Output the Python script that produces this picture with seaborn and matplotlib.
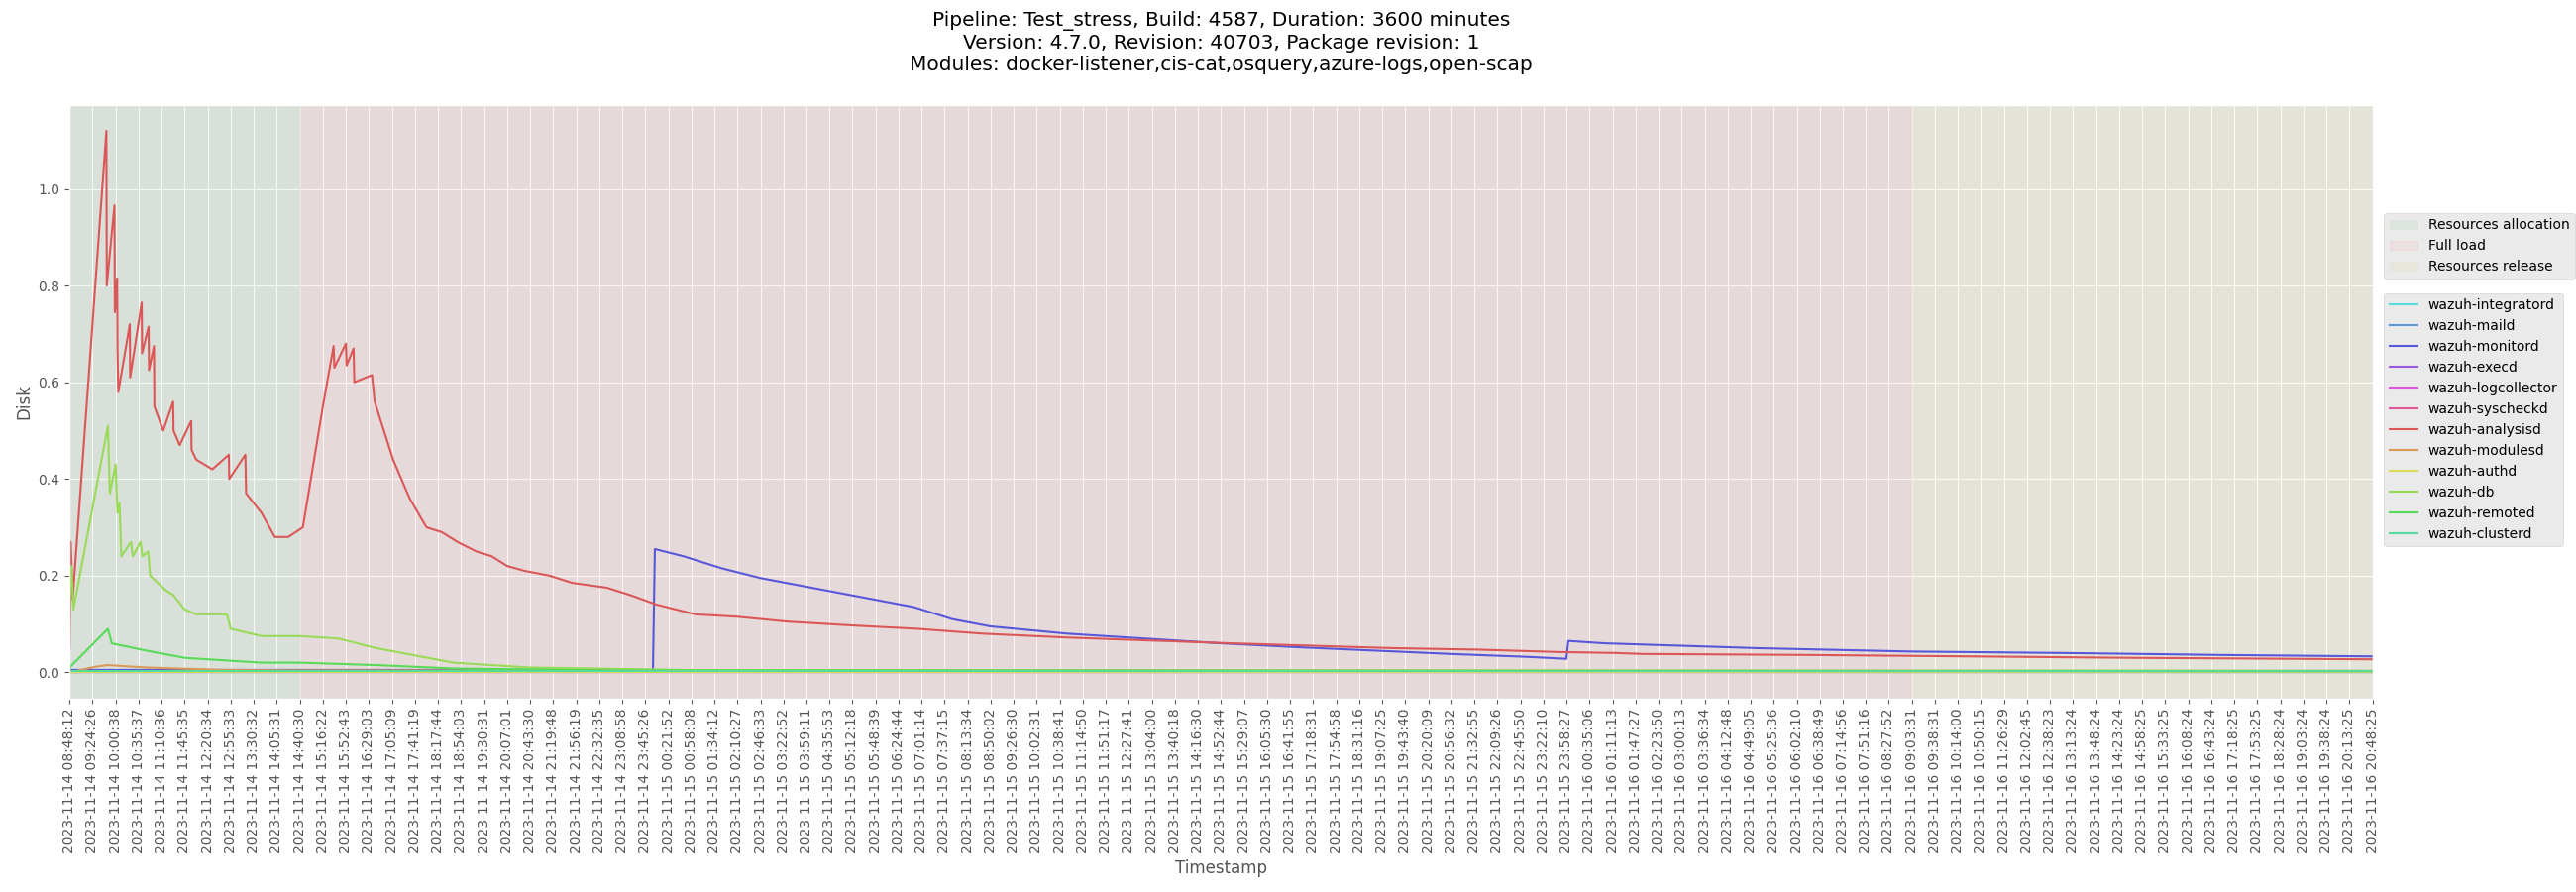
import numpy as np
import pandas as pd
import matplotlib
matplotlib.use("Agg")
import matplotlib.pyplot as plt
import seaborn as sns

plt.style.use("ggplot")

START = pd.Timestamp("2023-11-14 08:48:12")
END = pd.Timestamp("2023-11-16 20:48:25")

daemons = ["wazuh-integratord", "wazuh-maild", "wazuh-monitord", "wazuh-execd",
           "wazuh-logcollector", "wazuh-syscheckd", "wazuh-analysisd", "wazuh-modulesd",
           "wazuh-authd", "wazuh-db", "wazuh-remoted", "wazuh-clusterd"]

# hours since start -> disk value
analysisd_h = [0, 0.03, 0.08, 0.96, 0.97, 1.17, 1.18, 1.24, 1.25, 1.27, 1.57, 1.58, 1.88, 1.89,
               2.06, 2.07, 2.2, 2.21, 2.44, 2.7, 2.71, 2.87, 3.17, 3.18, 3.3, 3.72, 4.15, 4.16,
               4.58, 4.6, 5.0, 5.35, 5.7, 6.08, 6.6, 6.88, 6.9, 7.2, 7.22, 7.4, 7.42, 7.88,
               7.95, 8.43, 8.86, 9.3, 9.7, 10.1, 10.6, 11.0, 11.4, 11.85, 12.5, 13.1, 14.0,
               14.6, 15.3, 16.3, 17.4, 18.7, 20.4, 22.1, 23.8, 26.0, 28.1, 30.3, 32.4, 34.5,
               36.7, 38.8, 40.3, 41.0, 45.2, 49.5, 53.8, 60.0]
analysisd_v = [0.05, 0.27, 0.15, 1.12, 0.80, 0.966, 0.745, 0.815, 0.665, 0.58, 0.72, 0.61, 0.765,
               0.66, 0.715, 0.625, 0.675, 0.55, 0.50, 0.56, 0.50, 0.47, 0.52, 0.46, 0.44, 0.42,
               0.45, 0.40, 0.45, 0.37, 0.33, 0.28, 0.28, 0.30, 0.55, 0.675, 0.63, 0.68, 0.635,
               0.67, 0.60, 0.615, 0.56, 0.44, 0.36, 0.30, 0.29, 0.27, 0.25, 0.24, 0.22, 0.21,
               0.20, 0.185, 0.175, 0.16, 0.14, 0.12, 0.115, 0.105, 0.097, 0.09, 0.08, 0.072,
               0.066, 0.06, 0.055, 0.05, 0.047, 0.042, 0.040, 0.038, 0.036, 0.033, 0.030, 0.027]

db_h = [0, 0.05, 0.1, 1.0, 1.05, 1.2, 1.25, 1.3, 1.35, 1.6, 1.65, 1.85, 1.9, 2.05, 2.1, 2.5,
        2.7, 3.0, 3.3, 4.1, 4.2, 5.0, 6.0, 7.0, 8.0, 9.0, 10.0, 12.0, 16.0, 60.0]
db_v = [0.15, 0.22, 0.13, 0.51, 0.37, 0.43, 0.33, 0.35, 0.24, 0.27, 0.24, 0.27, 0.24, 0.25, 0.20,
        0.17, 0.16, 0.13, 0.12, 0.12, 0.09, 0.075, 0.075, 0.07, 0.05, 0.035, 0.02, 0.01, 0.005, 0.003]

remoted_h = [0, 1.0, 1.1, 2.0, 3.0, 5.0, 6.0, 8.0, 10.0, 14.0, 60.0]
remoted_v = [0.01, 0.09, 0.06, 0.045, 0.03, 0.02, 0.02, 0.015, 0.008, 0.004, 0.002]

modulesd_h = [0, 0.7, 1.0, 2.0, 4.0, 6.0, 60.0]
modulesd_v = [0.0, 0.012, 0.015, 0.01, 0.005, 0.004, 0.003]

monitord_h = [0, 15.2, 15.25, 16, 17, 18, 19, 20, 21, 22, 23, 24, 26, 28, 30, 32, 34, 36, 38, 39,
              39.05, 40, 44, 48, 52, 56, 60]
monitord_v = [0.005, 0.005, 0.255, 0.24, 0.215, 0.195, 0.18, 0.165, 0.15, 0.135, 0.11, 0.095,
              0.08, 0.07, 0.06, 0.052, 0.045, 0.038, 0.032, 0.028, 0.065, 0.06, 0.05, 0.043,
              0.04, 0.036, 0.033]

flat_h = [0, 60.0]
clusterd_v = [0.002, 0.002]
zero_v = [0.0, 0.0]

tick_labels = [
    "2023-11-14 08:48:12", "2023-11-14 09:24:26", "2023-11-14 10:00:38", "2023-11-14 10:35:37",
    "2023-11-14 11:10:36", "2023-11-14 11:45:35", "2023-11-14 12:20:34", "2023-11-14 12:55:33",
    "2023-11-14 13:30:32", "2023-11-14 14:05:31", "2023-11-14 14:40:30", "2023-11-14 15:16:22",
    "2023-11-14 15:52:43", "2023-11-14 16:29:03", "2023-11-14 17:05:09", "2023-11-14 17:41:19",
    "2023-11-14 18:17:44", "2023-11-14 18:54:03", "2023-11-14 19:30:31", "2023-11-14 20:07:01",
    "2023-11-14 20:43:30", "2023-11-14 21:19:48", "2023-11-14 21:56:19", "2023-11-14 22:32:35",
    "2023-11-14 23:08:58", "2023-11-14 23:45:26", "2023-11-15 00:21:52", "2023-11-15 00:58:08",
    "2023-11-15 01:34:12", "2023-11-15 02:10:27", "2023-11-15 02:46:33", "2023-11-15 03:22:52",
    "2023-11-15 03:59:11", "2023-11-15 04:35:53", "2023-11-15 05:12:18", "2023-11-15 05:48:39",
    "2023-11-15 06:24:44", "2023-11-15 07:01:14", "2023-11-15 07:37:15", "2023-11-15 08:13:34",
    "2023-11-15 08:50:02", "2023-11-15 09:26:30", "2023-11-15 10:02:31", "2023-11-15 10:38:41",
    "2023-11-15 11:14:50", "2023-11-15 11:51:17", "2023-11-15 12:27:41", "2023-11-15 13:04:00",
    "2023-11-15 13:40:18", "2023-11-15 14:16:30", "2023-11-15 14:52:44", "2023-11-15 15:29:07",
    "2023-11-15 16:05:30", "2023-11-15 16:41:55", "2023-11-15 17:18:31", "2023-11-15 17:54:58",
    "2023-11-15 18:31:16", "2023-11-15 19:07:25", "2023-11-15 19:43:40", "2023-11-15 20:20:09",
    "2023-11-15 20:56:32", "2023-11-15 21:32:55", "2023-11-15 22:09:26", "2023-11-15 22:45:50",
    "2023-11-15 23:22:10", "2023-11-15 23:58:27", "2023-11-16 00:35:06", "2023-11-16 01:11:13",
    "2023-11-16 01:47:27", "2023-11-16 02:23:50", "2023-11-16 03:00:13", "2023-11-16 03:36:34",
    "2023-11-16 04:12:48", "2023-11-16 04:49:05", "2023-11-16 05:25:36", "2023-11-16 06:02:10",
    "2023-11-16 06:38:49", "2023-11-16 07:14:56", "2023-11-16 07:51:16", "2023-11-16 08:27:52",
    "2023-11-16 09:03:31", "2023-11-16 09:38:31", "2023-11-16 10:14:00", "2023-11-16 10:50:15",
    "2023-11-16 11:26:29", "2023-11-16 12:02:45", "2023-11-16 12:38:23", "2023-11-16 13:13:24",
    "2023-11-16 13:48:24", "2023-11-16 14:23:24", "2023-11-16 14:58:25", "2023-11-16 15:33:25",
    "2023-11-16 16:08:24", "2023-11-16 16:43:24", "2023-11-16 17:18:25", "2023-11-16 17:53:25",
    "2023-11-16 18:28:24", "2023-11-16 19:03:24", "2023-11-16 19:38:24", "2023-11-16 20:13:25",
    "2023-11-16 20:48:25",
]

phases = ["Resources allocation", "Full load", "Resources release"]
phase_bounds = [0, 6.0, 48.0, 60.0]
phase_colors = ["green", "red", "y"]

series = {
    "wazuh-integratord": (flat_h, zero_v), "wazuh-maild": (flat_h, zero_v),
    "wazuh-monitord": (monitord_h, monitord_v), "wazuh-execd": (flat_h, zero_v),
    "wazuh-logcollector": (flat_h, zero_v), "wazuh-syscheckd": (flat_h, zero_v),
    "wazuh-analysisd": (analysisd_h, analysisd_v), "wazuh-modulesd": (modulesd_h, modulesd_v),
    "wazuh-authd": (flat_h, zero_v), "wazuh-db": (db_h, db_v),
    "wazuh-remoted": (remoted_h, remoted_v), "wazuh-clusterd": (flat_h, clusterd_v),
}
rows = []
for name, (hh, vv) in series.items():
    for h, v in zip(hh, vv):
        rows.append((START + pd.Timedelta(hours=h), v, name))
df = pd.DataFrame(rows, columns=["Timestamp", "Disk", "Daemon"])

palette = dict(zip(daemons, sns.hls_palette(12, h=0.5, l=0.6, s=0.65)))

fig, ax = plt.subplots(figsize=(26, 9), dpi=100)
fig.subplots_adjust(left=0.027, right=0.921, top=0.882, bottom=0.217)

span_handles = []
for name, a, b, c in zip(phases, phase_bounds[:-1], phase_bounds[1:], phase_colors):
    span_handles.append(ax.axvspan(START + pd.Timedelta(hours=a), START + pd.Timedelta(hours=b),
                                   color=c, alpha=0.05, label=name))

sns.lineplot(data=df, x="Timestamp", y="Disk", hue="Daemon", hue_order=daemons,
             palette=palette, ax=ax, linewidth=1.5, estimator=None)
handles, labels = ax.get_legend_handles_labels()
ax.get_legend().remove()
line_handles = [h for h, l in zip(handles, labels) if l in daemons]

leg1 = ax.legend(span_handles, phases, loc="upper left", bbox_to_anchor=(1.002, 0.83), fontsize=10)
ax.add_artist(leg1)
ax.legend(line_handles, daemons, loc="upper left", bbox_to_anchor=(1.002, 0.695), fontsize=10)

# labels sit on evenly spaced ticks across the run
ticks = pd.date_range(START, END, periods=len(tick_labels))
ax.set_xticks(ticks)
ax.set_xticklabels(tick_labels, rotation=90, fontsize=10)
ax.set_xlim(START, END)
ax.set_ylim(-0.054, 1.173)
ax.set_xlabel("Timestamp", fontsize=12)
ax.set_ylabel("Disk", fontsize=12)
ax.set_title("Pipeline: Test_stress, Build: 4587, Duration: 3600 minutes\n"
             "Version: 4.7.0, Revision: 40703, Package revision: 1\n"
             "Modules: docker-listener,cis-cat,osquery,azure-logs,open-scap",
             fontsize=14.5, pad=25, color="black")

fig.savefig("out.png", dpi=100)
